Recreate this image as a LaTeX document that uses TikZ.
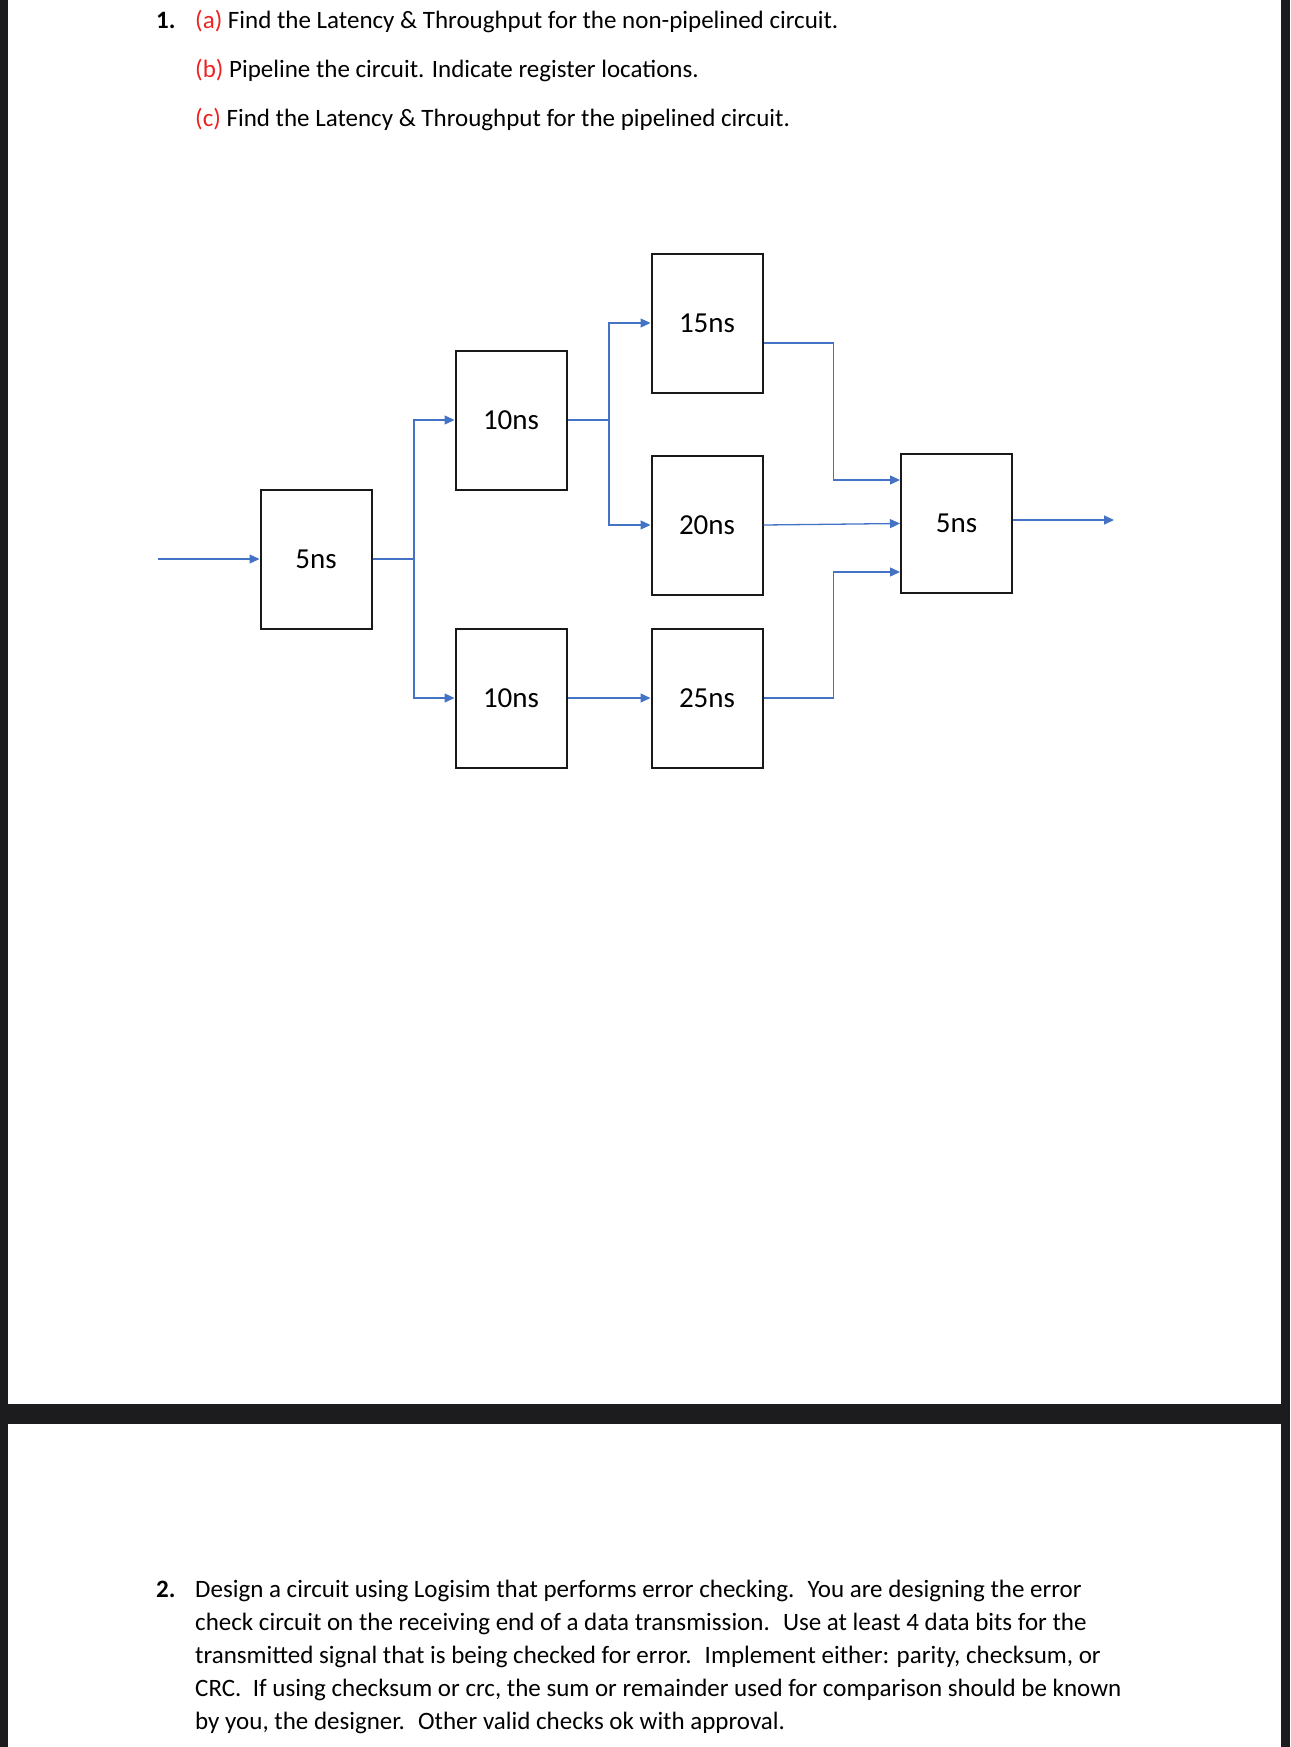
\documentclass[tikz,border=0pt]{standalone}
\usepackage{fontspec}
\setmainfont{Carlito}
\usetikzlibrary{arrows.meta,calc}
\definecolor{wireblue}{RGB}{68,114,196}
\definecolor{darkframe}{RGB}{28,28,30}
\definecolor{qred}{RGB}{238,34,34}
\begin{document}
\begin{tikzpicture}[x=1pt,y=-1pt,
  blockbox/.style={draw=black!90,line width=2pt,minimum width=111pt,minimum height=139pt,inner sep=0pt,font=\fontsize{29}{34}\selectfont},
  wire/.style={draw=wireblue,line width=1.3pt},
  warrow/.style={wire,-{Triangle[length=10pt,width=9pt]}},
  qtext/.style={anchor=base west,inner sep=0pt,font=\fontsize{25}{30}\selectfont}]
\useasboundingbox (0,0) rectangle (1290,1747);
% frame
\fill[darkframe] (0,0) rectangle (1290,1747);
\fill[white] (8,0) rectangle (1281,1404);
\fill[white] (8,1424) rectangle (1281,1747);
% question 1
\node[qtext] (n1) at (156,29) {\textbf{1.}};
\node[qtext] (qa) at (195,29) {{\color{qred}(a)} Find the Latency \& Throughput for the non-pipelined circuit.};
\node[qtext] (qb) at (195,78) {{\color{qred}(b)} Pipeline the circuit. Indicate register locations.};
\node[qtext] (qc) at (195,127) {{\color{qred}(c)} Find the Latency \& Throughput for the pipelined circuit.};
% blocks
\node[blockbox] (A) at (316,559) {5ns};
\node[blockbox] (B) at (511,420) {10ns};
\node[blockbox] (C) at (511,698) {10ns};
\node[blockbox] (D) at (707,323) {15ns};
\node[blockbox] (E) at (707,525) {20ns};
\node[blockbox] (F) at (707,698) {25ns};
\node[blockbox] (G) at (956.5,523.5) {5ns};
\coordinate (in) at (158,559);
\coordinate (j1) at (414,559);
\coordinate (j2) at (609,420);
\coordinate (out) at (1114,520);
% wires
\draw[warrow] (in) -- (A.west);
\draw[wire] (A.east) -- (j1);
\draw[warrow] (j1) |- (B.west);
\draw[warrow] (j1) |- (C.west);
\draw[wire] (B.east) -- (j2);
\draw[warrow] (j2) |- (D.west);
\draw[warrow] (j2) |- (E.west);
\draw[warrow] (C.east) -- (F.west);
\draw[warrow] ([yshift=-20pt]D.east) -- ++(70,0) |- ([yshift=43.5pt]G.west);
\draw[warrow] (E.east) -- (G.west);
\draw[warrow] (F.east) -- ++(70,0) |- ([yshift=-48.5pt]G.west);
\draw[warrow] ([yshift=3.5pt]G.east) -- (out);
% question 2
\node[qtext] (n2) at (156,1597) {\textbf{2.}};
\node[qtext] (l1) at (195,1597) {Design a circuit using Logisim that performs error checking.~ You are designing the error};
\node[qtext] (l2) at (195,1630) {check circuit on the receiving end of a data transmission.~ Use at least 4 data bits for the};
\node[qtext] (l3) at (195,1663) {transmitted signal that is being checked for error.~ Implement either: parity, checksum, or};
\node[qtext] (l4) at (195,1696) {CRC.~ If using checksum or crc, the sum or remainder used for comparison should be known};
\node[qtext] (l5) at (195,1729) {by you, the designer.~ Other valid checks ok with approval.};
\end{tikzpicture}
\end{document}
